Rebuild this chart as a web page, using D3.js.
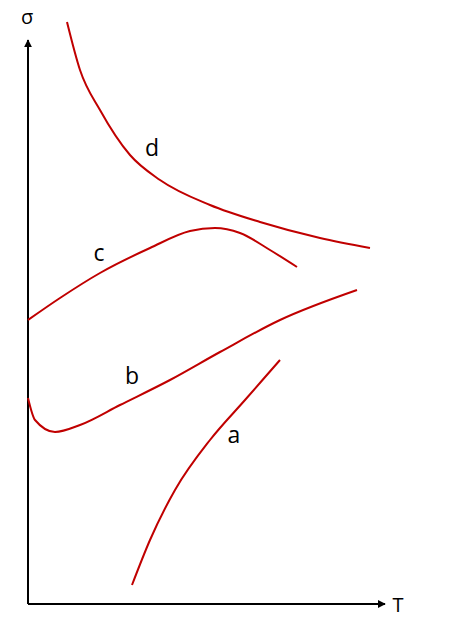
<!DOCTYPE html>
<html><head><meta charset="utf-8">
<script src="https://cdn.jsdelivr.net/npm/d3@7"></script>
<style>body{margin:0;background:#fff}</style></head>
<body><svg id="c" width="451" height="632"></svg>
<script>
const curveD=[[39,582],[52,534],[72,494],[102,449],[132,424],[182,399],[232,382],[292,366],[342,356]];
const curveC=[[0,284],[32,306],[72,331],[122,356],[162,373],[187,376],[212,371],[242,354],[269,337]];
const curveB=[[0,206],[7,184],[27,172],[52,179],[92,199],[142,224],[192,252],[252,284],[329,314]];
const curveA=[[104,19],[122,64],[147,114],[182,164],[217,204],[252,244]];
const labels=[["d",124,454],["c",71,349],["b",104,226],["a",206,167]];
const svg=d3.select("#c");
const x=d3.scaleLinear().domain([0,357]).range([28,385]);
const y=d3.scaleLinear().domain([0,564]).range([604,40]);
svg.append("defs").append("marker").attr("id","ar").attr("viewBox","0 0 10 10").attr("refX",9).attr("refY",5)
 .attr("markerWidth",4).attr("markerHeight",4).attr("orient","auto")
 .append("path").attr("d","M0,0L10,5L0,10z").attr("fill","#000");
svg.append("line").attr("x1",x(0)).attr("y1",y(0)).attr("x2",x(0)).attr("y2",y(564)).attr("stroke","#000").attr("stroke-width",2).attr("marker-end","url(#ar)");
svg.append("line").attr("x1",x(0)).attr("y1",y(0)).attr("x2",x(357)).attr("y2",y(0)).attr("stroke","#000").attr("stroke-width",2).attr("marker-end","url(#ar)");
const line=d3.line().x(d=>x(d[0])).y(d=>y(d[1])).curve(d3.curveMonotoneX);
[curveD,curveC,curveB,curveA].forEach(c=>svg.append("path").attr("d",line(c)).attr("fill","none").attr("stroke","#c00000").attr("stroke-width",2));
labels.forEach(l=>svg.append("text").attr("x",x(l[1])).attr("y",y(l[2])).attr("text-anchor","middle").attr("dominant-baseline","middle")
 .attr("font-family","Open Sans, sans-serif").attr("font-size",23).text(l[0]));
svg.append("text").attr("x",27).attr("y",24).attr("text-anchor","middle").attr("font-family","Open Sans, sans-serif").attr("font-size",20).text("σ");
svg.append("text").attr("x",398).attr("y",612).attr("text-anchor","middle").attr("font-family","Open Sans, sans-serif").attr("font-size",20).text("T");
</script></body></html>
